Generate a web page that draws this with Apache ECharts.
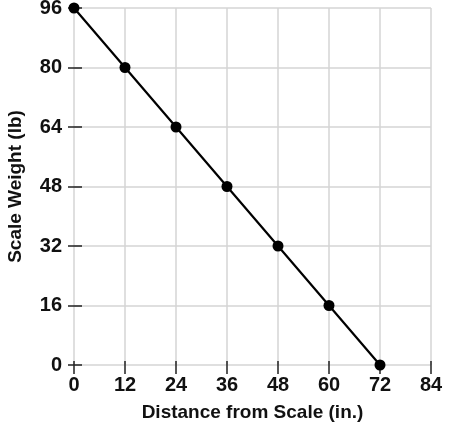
<!DOCTYPE html>
<html>
<head>
<meta charset="utf-8">
<script src="https://cdn.jsdelivr.net/npm/echarts@6/dist/echarts.min.js"></script>
<style>
  html, body { margin: 0; padding: 0; background: #fff; }
  #chart { width: 450px; height: 429px; }
</style>
</head>
<body>
<div id="chart"></div>
<script>
// distance vs scale weight
var distances = [0, 12, 24, 36, 48, 60, 72];
var weights = [96, 80, 64, 48, 32, 16, 0];

var myChart = echarts.init(document.getElementById('chart'));
var font = 'Liberation Sans, Arial, sans-serif';

var labelStyle = { color: '#111', fontSize: 20, fontWeight: 'bold', fontFamily: font };
var nameStyle = { color: '#111', fontSize: 19, fontWeight: 'bold', fontFamily: font };

var option = {
    animation: false,
    grid: { left: 74, right: 19, top: 8, bottom: 64, containLabel: false, outerBoundsMode: 'none' },
    xAxis: [
        {
            type: 'value', min: 0, max: 84, interval: 12,
            name: 'Distance from Scale (in.)',
            nameLocation: 'middle', nameGap: 38,
            nameTextStyle: nameStyle,
            axisLine: { show: false },
            axisTick: { show: true, length: 9, lineStyle: { color: '#222', width: 1.5 } },
            axisLabel: Object.assign({ margin: 10 }, labelStyle),
            splitLine: { show: true, lineStyle: { color: '#d4d4d4', width: 1.5 } }
        },
        {
            type: 'value', min: 0, max: 84, interval: 12, position: 'bottom',
            axisLine: { show: false },
            axisTick: { show: true, inside: true, length: 4, lineStyle: { color: '#222', width: 1.5 } },
            axisLabel: { show: false },
            splitLine: { show: false }
        }
    ],
    yAxis: [
        {
            type: 'value', min: 0, max: 96, interval: 16,
            name: 'Scale Weight (lb)',
            nameLocation: 'middle', nameGap: 49,
            nameTextStyle: nameStyle,
            axisLine: { show: false },
            axisTick: { show: true, length: 6, lineStyle: { color: '#222', width: 1.5 } },
            axisLabel: Object.assign({ margin: 12 }, labelStyle),
            splitLine: { show: true, lineStyle: { color: '#d4d4d4', width: 1.5 } }
        },
        {
            type: 'value', min: 0, max: 96, interval: 16, position: 'left',
            axisLine: { show: false },
            axisTick: { show: true, inside: true, length: 8, lineStyle: { color: '#222', width: 1.5 } },
            axisLabel: { show: false },
            splitLine: { show: false }
        }
    ],
    series: [
        {
            type: 'line',
            data: distances.map(function (d, i) { return [d, weights[i]]; }),
            symbol: 'circle',
            symbolSize: 11,
            lineStyle: { color: '#000', width: 2.2 },
            itemStyle: { color: '#000' }
        }
    ]
};
myChart.setOption(option);
</script>
</body>
</html>
